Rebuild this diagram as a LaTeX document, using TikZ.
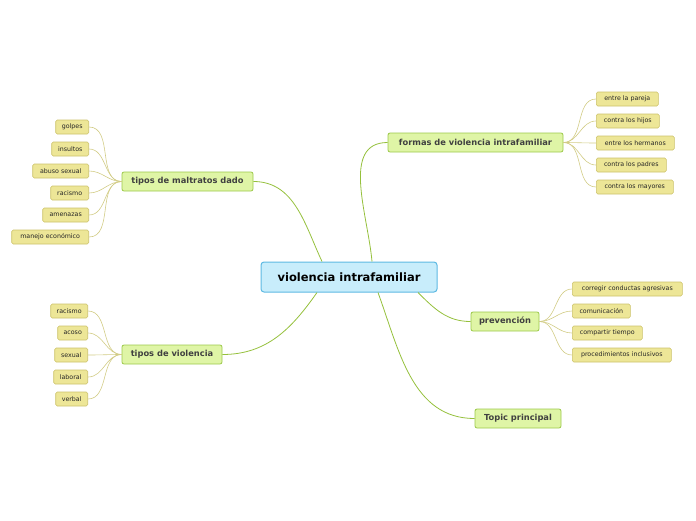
\documentclass[tikz,border=0pt]{standalone}
\usepackage{fontspec}
\setmainfont{DejaVu Sans}
\usetikzlibrary{calc}
\definecolor{leaff}{HTML}{EDE697}
\definecolor{leafd}{HTML}{CCC26A}
\definecolor{lvf}{HTML}{DFF5A6}
\definecolor{lvd}{HTML}{9CC84A}
\definecolor{mf}{HTML}{C8EDFB}
\definecolor{md}{HTML}{5DB9E2}
\definecolor{lc}{HTML}{D2CC86}
\definecolor{gc}{HTML}{95C03C}
\tikzset{
 leaf/.style={draw=leafd,fill=leaff,rounded corners=1.5pt,minimum height=14,inner sep=0,font=\fontsize{6.3}{7}\selectfont,text=black!85,line width=0.6pt},
 lvl/.style={draw=lvd,fill=lvf,rounded corners=2pt,minimum height=19,inner sep=0,font=\fontsize{8.3}{9}\bfseries\selectfont,text=black!75,line width=0.8pt},
 lk/.style={draw=lc,line width=0.6pt},
 gk/.style={draw=gc,line width=0.8pt}
}
\begin{document}
\begin{tikzpicture}[x=1pt,y=-1pt]
\useasboundingbox (0,0) rectangle (696,520);
\node[draw=md,fill=mf,rounded corners=3pt,line width=1pt,minimum width=176,minimum height=30,inner sep=0,font=\fontsize{11.5}{13}\bfseries\selectfont] (main) at (349,277) {violencia intrafamiliar};
\node[lvl,minimum width=175] (formas) at (475.5,142.5) {formas de violencia intrafamiliar};
\node[lvl,minimum width=131] (malt) at (187.5,181.5) {tipos de maltratos dado};
\node[lvl,minimum width=100] (tipos) at (172,354.5) {tipos de violencia};
\node[lvl,minimum width=68] (prev) at (505,321.5) {prevención};
\node[lvl,minimum width=86] (topic) at (518,418.5) {Topic principal};
% main connectors
\draw[gk] ($(main.north)+(-27,0)$) to[out=115,in=0] (malt.east);
\draw[gk] ($(main.north)+(23,0)$) to[out=95,in=180] (formas.west);
\draw[gk] ($(main.south)+(-32,0)$) to[out=235,in=0] (tipos.east);
\draw[gk] ($(main.south)+(69,0)$) to[out=315,in=180] (prev.west);
\draw[gk] ($(main.south)+(29,0)$) to[out=290,in=180] (topic.west);
% formas leaves
\foreach \n/\y/\w/\t in {f1/99/62/entre la pareja, f2/121/63/contra los hijos, f3/143/78/entre los hermanos, f4/165/70/contra los padres, f5/187/77/contra los mayores}{
 \node[leaf,minimum width=\w,anchor=west] (\n) at (596,\y) {\t};
 \draw[lk] (formas.east) to[out=0,in=180] (\n.west);
}
\foreach \n/\y/\w/\t in {p1/289/110/corregir conductas agresivas, p2/311/58/comunicación, p3/333/70/compartir tiempo, p4/355/99/procedimientos inclusivos}{
 \node[leaf,minimum width=\w,anchor=west] (\n) at (572,\y) {\t};
 \draw[lk] (prev.east) to[out=0,in=180] (\n.west);
}
\foreach \n/\y/\w/\t in {m1/127/33/golpes, m2/149/37/insultos, m3/171/56/abuso sexual, m4/193/38/racismo, m5/215/46/amenazas, m6/237/77/manejo económico}{
 \node[leaf,minimum width=\w,anchor=east] (\n) at (89,\y) {\t};
 \draw[lk] (malt.west) to[out=180,in=0] (\n.east);
}
\foreach \n/\y/\w/\t in {t1/311/37/racismo, t2/333/30/acoso, t3/355/33/sexual, t4/377/34/laboral, t5/399/32/verbal}{
 \node[leaf,minimum width=\w,anchor=east] (\n) at (88,\y) {\t};
 \draw[lk] (tipos.west) to[out=180,in=0] (\n.east);
}
\end{tikzpicture}
\end{document}
